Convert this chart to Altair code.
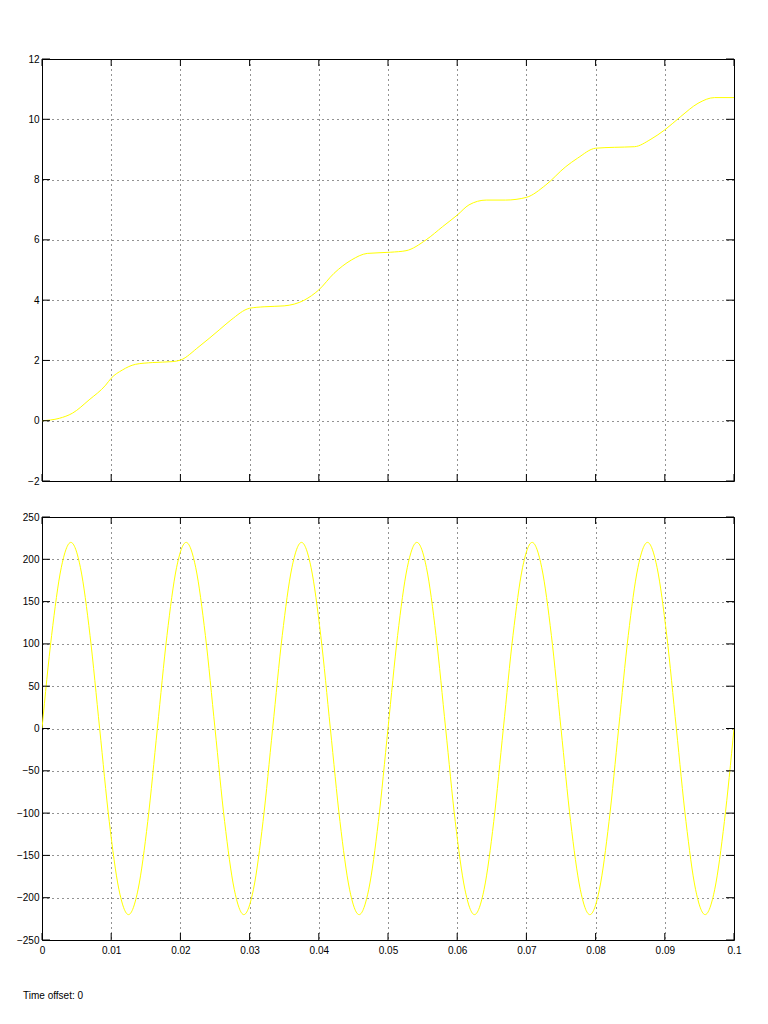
import altair as alt
import pandas as pd

# ---- data ----
top_t = [0, 0.0025, 0.0044, 0.0068, 0.0092, 0.01, 0.0116, 0.0135, 0.016, 0.0188,
         0.02, 0.0227, 0.0256, 0.0273, 0.03, 0.0321, 0.035, 0.0379, 0.04, 0.0422,
         0.0447, 0.047, 0.0504, 0.0526, 0.0555, 0.0579, 0.06, 0.0617, 0.0642, 0.067,
         0.07, 0.0728, 0.0757, 0.0774, 0.08, 0.0827, 0.0856, 0.088, 0.09, 0.0923,
         0.0948, 0.0972, 0.1]
top_v = [0, 0.08, 0.25, 0.69, 1.18, 1.41, 1.68, 1.87, 1.93, 1.96,
         2.01, 2.46, 3.01, 3.34, 3.73, 3.78, 3.81, 4.0, 4.34, 4.89,
         5.33, 5.55, 5.59, 5.64, 6.0, 6.44, 6.82, 7.16, 7.32, 7.32,
         7.41, 7.82, 8.43, 8.71, 9.04, 9.07, 9.09, 9.34, 9.65, 10.09,
         10.53, 10.72, 10.72]

bot_t = [0, 0.00139, 0.00278, 0.00417, 0.00556, 0.00694, 0.00833, 0.00972, 0.01111, 0.0125,
         0.01389, 0.01528, 0.01667, 0.01806, 0.01944, 0.02083, 0.02222, 0.02361, 0.025, 0.02639,
         0.02778, 0.02917, 0.03056, 0.03194, 0.03333, 0.03472, 0.03611, 0.0375, 0.03889, 0.04028,
         0.04167, 0.04306, 0.04444, 0.04583, 0.04722, 0.04861, 0.05, 0.05139, 0.05278, 0.05417,
         0.05556, 0.05694, 0.05833, 0.05972, 0.06111, 0.0625, 0.06389, 0.06528, 0.06667, 0.06806,
         0.06944, 0.07083, 0.07222, 0.07361, 0.075, 0.07639, 0.07778, 0.07917, 0.08056, 0.08194,
         0.08333, 0.08472, 0.08611, 0.0875, 0.08889, 0.09028, 0.09167, 0.09306, 0.09444, 0.09583,
         0.09722, 0.09861, 0.1]
bot_v = [0, 110, 190, 220, 190, 110, 0, -110, -190, -220, -190, -110,
         0, 110, 190, 220, 190, 110, 0, -110, -190, -220, -190, -110,
         0, 110, 190, 220, 190, 110, 0, -110, -190, -220, -190, -110,
         0, 110, 190, 220, 190, 110, 0, -110, -190, -220, -190, -110,
         0, 110, 190, 220, 190, 110, 0, -110, -190, -220, -190, -110,
         0, 110, 190, 220, 190, 110, 0, -110, -190, -220, -190, -110,
         0]

x_ticks = [0, 0.01, 0.02, 0.03, 0.04, 0.05, 0.06, 0.07, 0.08, 0.09, 0.1]
top_y_ticks = [-2, 0, 2, 4, 6, 8, 10, 12]
bot_y_ticks = [-250, -200, -150, -100, -50, 0, 50, 100, 150, 200, 250]
footer = ["Time offset: 0"]

W = 692
FONT = "Liberation Sans"


def panel(t, v, ydomain, yticks, h, show_x, footer_text=None):
    df = pd.DataFrame({"t": t, "v": v})
    xs = alt.Scale(domain=[0, 0.1], nice=False, zero=False)
    ys = alt.Scale(domain=ydomain, nice=False, zero=False)
    xaxis = alt.Axis(values=x_ticks, grid=True, gridDash=[1, 4], gridColor="#000",
                     gridOpacity=0.85, ticks=False, domain=False, labels=show_x,
                     format="~g", labelPadding=5, title=None, labelFlush=False,
                     labelFontSize=10, labelFont=FONT, labelColor="#000")
    yaxis = alt.Axis(values=yticks, grid=True, gridDash=[1, 4], gridColor="#000",
                     gridOpacity=0.85, ticks=False, domain=False, title=None,
                     labelPadding=3, labelFontSize=10, labelFont=FONT, labelColor="#000",
                     minExtent=33, maxExtent=33)
    line = alt.Chart(df).mark_line(color="#ffff00", strokeWidth=1,
                                   interpolate="monotone", clip=True).encode(
        x=alt.X("t:Q", scale=xs, axis=xaxis),
        y=alt.Y("v:Q", scale=ys, axis=yaxis),
    )
    ydf = pd.DataFrame({"v": yticks})
    xdf = pd.DataFrame({"t": x_ticks})
    yl = alt.Chart(ydf).mark_rule(color="#000").encode(
        y=alt.Y("v:Q", scale=ys, axis=yaxis), x=alt.value(0), x2=alt.value(8))
    yr = alt.Chart(ydf).mark_rule(color="#000").encode(
        y=alt.Y("v:Q", scale=ys, axis=yaxis), x=alt.value(W - 8), x2=alt.value(W))
    xb = alt.Chart(xdf).mark_rule(color="#000").encode(
        x=alt.X("t:Q", scale=xs, axis=xaxis), y=alt.value(h - 7), y2=alt.value(h))
    xt = alt.Chart(xdf).mark_rule(color="#000").encode(
        x=alt.X("t:Q", scale=xs, axis=xaxis), y=alt.value(0), y2=alt.value(7))
    layers = [line, yl, yr, xb, xt]
    if footer_text is not None:
        txt = alt.Chart(pd.DataFrame({"label": footer_text})).mark_text(
            align="left", baseline="middle", fontSize=10, font=FONT, color="#000"
        ).encode(x=alt.value(-19), y=alt.value(479), text="label:N")
        layers.append(txt)
    return alt.layer(*layers).properties(width=W, height=h)


top = panel(top_t, top_v, [-2, 12], top_y_ticks, 422, False)
bottom = panel(bot_t, bot_v, [-250, 250], bot_y_ticks, 423, True, footer)

chart = alt.vconcat(top, bottom, spacing=24).properties(
    padding={"top": 45, "left": 0, "right": 10, "bottom": 10}
).configure(background="white").configure_view(stroke="#000", strokeWidth=1)

chart.save("out.html", embed_options={"renderer": "svg", "actions": False})
